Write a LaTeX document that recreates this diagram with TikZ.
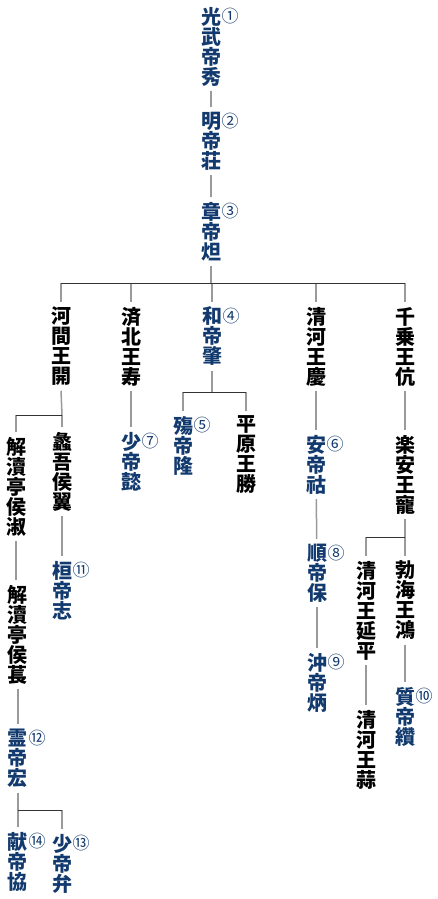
\documentclass[tikz,border=0pt]{standalone}
\usepackage{fontspec}
\newfontfamily\jp{Noto Sans CJK JP}
\definecolor{blu}{HTML}{123A6E}
\definecolor{gry}{HTML}{9A9A9A}
\definecolor{drk}{HTML}{333333}
\tikzset{
  nm/.style={anchor=north, inner sep=0pt, outer xsep=0pt, outer ysep=5pt, align=center,
    font=\jp\bfseries\fontsize{20}{20}\selectfont},
  ti/.style={nm, text=blu},
  num/.style={anchor=west, inner sep=0pt, xshift=0.5pt, yshift=-14pt, text=blu,
    font=\jp\fontsize{17}{17}\selectfont},
  ord/.style={label={[num]north east:#1}},
  vl/.style={gry, line width=1.5pt},
  hl/.style={drk, line width=1pt}
}

\begin{document}
\begin{tikzpicture}[x=1pt, y=-1pt]
    \useasboundingbox (0,0) rectangle (437,899);

    \node[ti, ord=①] (kobu) at (211,2)   {光\\武\\帝\\秀};
    \node[ti, ord=②] (mei)  at (211,107) {明\\帝\\荘};
    \node[ti, ord=③] (sho)  at (211,197) {章\\帝\\炟};

    \node[nm] (kawama)  at (61,302)  {河\\間\\王\\開};
    \node[nm] (saihoku) at (131,302) {済\\北\\王\\寿};
    \node[ti, ord=④] (wa) at (212,302) {和\\帝\\肇};
    \node[nm] (seiga)   at (316,302) {清\\河\\王\\慶};
    \node[nm] (senjo)   at (405,302) {千\\乗\\王\\伉};

    \node[nm] (kaitoku1) at (16,432)  {解\\瀆\\亭\\侯\\淑};
    \node[nm] (reigo)    at (62,427)  {蠡\\吾\\侯\\翼};
    \node[ti, ord=⑦] (shoi)  at (131,427) {少\\帝\\懿};
    \node[ti, ord=⑤] (shou)  at (183,411) {殤\\帝\\隆};
    \node[nm] (heigen)   at (246,411) {平\\原\\王\\勝};
    \node[ti, ord=⑥] (an)    at (316,430) {安\\帝\\祜};
    \node[nm] (rakuan)   at (405,430) {楽\\安\\王\\寵};

    \node[ti, ord=⑧] (jun)  at (317,539) {順\\帝\\保};
    \node[ti, ord=⑪] (kan)  at (62,556)  {桓\\帝\\志};
    \node[nm] (enpei)    at (366,556) {清\\河\\王\\延\\平};
    \node[nm] (botsukai) at (405,556) {勃\\海\\王\\鴻};
    \node[nm] (kaitoku2) at (18,580)  {解\\瀆\\亭\\侯\\萇};

    \node[ti, ord=⑨] (chu)    at (317,648) {沖\\帝\\炳};
    \node[ti, ord=⑩] (shitsu) at (405,682) {質\\帝\\纘};
    \node[nm] (san)      at (366,705) {清\\河\\王\\蒜};
    \node[ti, ord=⑫] (reitei) at (18,724)  {霊\\帝\\宏};

    \node[ti, ord=⑭] (ken)    at (18,827)  {献\\帝\\協};
    \node[ti, ord=⑬] (shoben) at (62,829)  {少\\帝\\弁};

    \coordinate (b1) at (211,283);
    \coordinate (b2) at (62,415);
    \coordinate (b3) at (212,392);
    \coordinate (b4) at (405,537);
    \coordinate (b5) at (18,810);

    \draw[vl] (kobu) -- (mei);
    \draw[vl] (mei) -- (sho);
    \draw[vl] (saihoku) -- (shoi);
    \draw[vl] (seiga) -- (an);
    \draw[vl] (senjo) -- (rakuan);
    \draw[vl] (an) -- (jun);
    \draw[vl] (jun) -- (chu);
    \draw[vl] (reigo) -- (kan);
    \draw[vl] (kaitoku1.south) -- (kaitoku1.south |- kaitoku2.north);
    \draw[vl] (kaitoku2) -- (reitei);
    \draw[vl] (enpei) -- (san);
    \draw[vl] (botsukai) -- (shitsu);

    \draw[vl] (sho.south) -- (b1);
    \foreach \c in {kawama,saihoku,wa,seiga,senjo}
        \draw[vl] (\c |- b1) -- (\c.north);
    \draw[hl] (kawama |- b1) -- (senjo |- b1);

    \draw[vl] (kawama.south) -- (b2);
    \foreach \c in {kaitoku1,reigo}
        \draw[vl] (\c |- b2) -- (\c.north);
    \draw[hl] (kaitoku1 |- b2) -- (reigo |- b2);

    \draw[vl] (wa.south) -- (b3);
    \foreach \c in {shou,heigen}
        \draw[vl] (\c |- b3) -- (\c.north);
    \draw[hl] (shou |- b3) -- (heigen |- b3);

    \draw[vl] (rakuan.south) -- (b4);
    \foreach \c in {enpei,botsukai}
        \draw[vl] (\c |- b4) -- (\c.north);
    \draw[hl] (enpei |- b4) -- (botsukai |- b4);

    \draw[vl] (reitei.south) -- (b5);
    \foreach \c in {ken,shoben}
        \draw[vl] (\c |- b5) -- (\c.north);
    \draw[hl] (ken |- b5) -- (shoben |- b5);
\end{tikzpicture}
\end{document}
